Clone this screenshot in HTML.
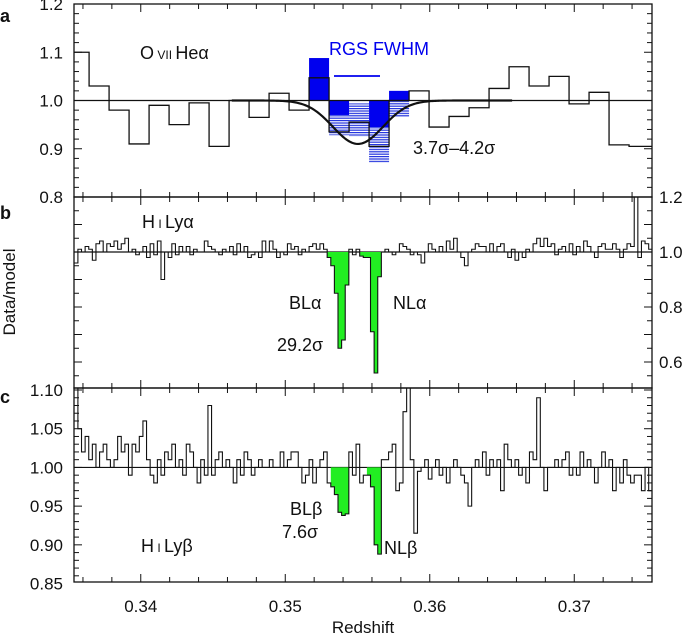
<!DOCTYPE html>
<html><head><meta charset="utf-8"><style>
body{margin:0;background:#fff;}
svg{display:block;font-family:"Liberation Sans",sans-serif;}
</style></head><body>
<svg id="chart" width="685" height="637" viewBox="0 0 685 637">
<defs>
<pattern id="hatch" patternUnits="userSpaceOnUse" width="4" height="2.4"><rect width="4" height="1.2" fill="#2233dd"/></pattern>
<clipPath id="clipA"><rect x="74" y="4" width="578" height="193"/></clipPath>
<clipPath id="clipB"><rect x="74" y="197" width="578" height="191"/></clipPath>
<clipPath id="clipC"><rect x="74" y="388" width="578" height="194"/></clipPath>
</defs>
<g id="g"></g>
</svg>
<script>
// ---- data ----
const xTicks = [0.34, 0.35, 0.36, 0.37];
const xTickLabels = ["0.34", "0.35", "0.36", "0.37"];
// panel a: O VII He-alpha (coarse bins)
const aBinStart = 0.33504;
const aBinWidth = 0.001384;
const aValues = [1.10,1.03,0.98,0.91,0.99,0.95,0.995,0.905,1.0,0.965,1.015,0.98,1.047,0.935,0.955,0.905,1.0,1.02,0.945,0.967,0.985,1.025,1.07,1.03,1.05,0.993,1.017,0.908,0.905,0.905];
const aBlueBins = [12,13,14,15,16];
const aSolidLo = [1.0,0.97,null,0.945,1.0];
const aSolidHi = [1.088,1.0,null,1.0,1.02];
const aHatchLo = [null,0.928,0.925,0.871,0.965];
const aHatchHi = [null,0.97,0.994,0.945,1.0];
const aModelCenter = 0.35503;
const aModelSigma = 0.00173;
const aModelDepth = 0.09;
const aYTicks = [0.8,0.9,1.0,1.1,1.2];
const aYTickLabels = ["0.8","0.9","1.0","1.1","1.2"];
// panel b: H I Ly-alpha
const bBinStart = 0.3354;
const bBinWidth = 0.00025;
const bValues = [0.96,1.01,1.00,1.02,1.01,0.97,1.03,1.04,1.00,1.03,
1.02,1.04,1.01,1.03,1.05,1.00,1.01,0.99,1.00,1.02,
0.98,1.03,0.99,1.04,0.90,1.00,0.98,1.03,0.99,1.02,
1.00,1.02,0.99,1.01,1.00,1.00,1.04,1.02,1.01,1.00,
0.99,1.01,1.00,1.02,0.99,1.03,1.00,1.02,0.98,0.99,
1.00,0.98,1.04,1.00,1.04,1.01,0.98,1.00,0.99,1.03,
1.01,1.02,0.99,1.01,1.00,1.02,1.03,1.01,1.03,1.01,
0.98,0.95,0.85,0.65,0.68,0.88,1.01,0.99,1.01,0.985,
0.98,0.98,0.71,0.56,0.91,1.00,1.01,1.00,0.99,1.00,
1.03,1.02,1.01,0.99,1.00,0.99,0.96,1.00,1.03,1.01,
1.00,1.02,1.00,1.04,1.01,1.05,1.00,0.98,0.95,1.00,
1.01,1.03,1.02,1.02,1.00,1.03,1.00,1.02,1.03,1.00,
0.98,1.01,0.97,1.00,0.98,1.01,1.00,1.03,1.05,1.02,
1.05,1.02,1.03,0.99,1.01,1.02,1.00,1.03,0.99,1.02,
1.00,1.04,1.02,1.00,0.98,1.02,1.03,1.01,1.01,1.03,
1.01,0.98,1.01,1.03,1.02,1.25,0.98,1.04,1.03,1.01];
const bGreen = [[70,75],[79,84]];
const bYTicks = [0.6,0.8,1.0,1.2];
const bYTickLabels = ["0.6","0.8","1.0","1.2"];
// panel c: H I Ly-beta
const cBinStart = 0.3354;
const cBinWidth = 0.00025;
const cValues = [1.12,1.05,1.02,1.04,1.01,1.03,1.00,1.02,1.03,1.01,
1.00,1.01,1.04,1.02,1.03,0.99,1.03,1.02,1.04,1.06,
1.01,0.99,0.98,1.01,0.99,1.02,1.01,1.03,1.00,1.01,
0.99,1.03,1.02,1.00,0.98,1.01,0.99,1.08,0.99,1.01,
1.02,1.00,1.01,1.00,0.98,1.01,0.99,1.02,1.01,0.99,
1.00,1.01,1.00,1.00,1.01,1.00,1.00,1.02,1.00,1.01,
1.02,1.02,1.00,0.98,0.99,1.01,0.98,1.00,1.01,1.02,
0.98,0.975,0.965,0.942,0.938,0.94,1.02,0.99,1.03,0.98,
0.99,0.99,0.975,0.90,0.888,1.01,1.01,1.02,1.03,0.97,
0.98,1.072,1.12,1.01,0.915,0.995,1.00,1.01,0.985,1.00,
1.01,0.99,1.00,0.98,1.00,1.01,1.00,0.99,0.98,0.95,
1.00,1.01,1.00,1.02,0.99,1.01,1.00,1.01,0.97,1.03,
1.01,1.00,1.01,0.99,1.00,0.98,1.02,1.01,1.09,1.00,
0.97,1.00,1.00,1.01,1.00,1.01,1.02,0.99,1.00,0.99,
1.02,1.00,1.01,1.00,0.98,1.00,1.02,1.00,1.01,0.97,
1.00,0.98,1.01,0.99,0.98,0.99,0.99,0.97,1.00,0.97];
const cGreen = [[71,75],[81,84]];
const cYTicks = [0.85,0.90,0.95,1.00,1.05,1.10];
const cYTickLabels = ["0.85","0.90","0.95","1.00","1.05","1.10"];

// ---- axes ----
const X0=74, X1=652, Z0=0.33538, Z1=0.37538;
const xs = z => X0 + (z-Z0)/(Z1-Z0)*(X1-X0);
const mkY = (top,bot,vTop,vBot) => v => top + (vTop-v)/(vTop-vBot)*(bot-top);
const P = {
 a:{top:4,bot:197,y:mkY(4,197,1.2,0.8),clip:"clipA"},
 b:{top:197,bot:388,y:mkY(197,388,1.2,0.5055),clip:"clipB"},
 c:{top:388,bot:582,y:mkY(388,582,1.1026,0.852),clip:"clipC"}
};
const NS="http://www.w3.org/2000/svg";
const G=document.getElementById('g');
function el(tag,attrs,parent){const e=document.createElementNS(NS,tag);for(const k in attrs)e.setAttribute(k,attrs[k]);(parent||G).appendChild(e);return e;}
function txt(x,y,s,size,anchor,name,extra){const t=el('text',Object.assign({x:x,y:y,'font-size':size,'text-anchor':anchor||'start',fill:'#111'},extra||{}));t.textContent=s;


return t;}

function histPath(vals,start,w,y){let d="";for(let i=0;i<vals.length;i++){const xa=xs(start+i*w),xb=xs(start+(i+1)*w),yy=y(vals[i]);d+=(i===0?"M":"L")+xa.toFixed(2)+","+yy.toFixed(2)+"L"+xb.toFixed(2)+","+yy.toFixed(2);}return d;}
function greenPath(vals,start,w,y,r){const y1=y(1.0);let d="M"+xs(start+r[0]*w).toFixed(2)+","+y1;for(let i=r[0];i<=r[1];i++){const xa=xs(start+i*w),xb=xs(start+(i+1)*w),yy=y(vals[i]);d+="L"+xa.toFixed(2)+","+yy.toFixed(2)+"L"+xb.toFixed(2)+","+yy.toFixed(2);}d+="L"+xs(start+(r[1]+1)*w).toFixed(2)+","+y1+"Z";return d;}

// frames & ticks
["a","b","c"].forEach(k=>{
 const p=P[k];
 const f=el('rect',{x:X0,y:p.top,width:X1-X0,height:p.bot-p.top,fill:'none',stroke:'#111','stroke-width':1.3});
 
 
 for(let z=0.336;z<0.3755;z+=0.002){const major=Math.abs(z*100-Math.round(z*100))<1e-6;const L=major?8:5;const x=xs(z);
  const t1=el('line',{x1:x,x2:x,y1:p.top,y2:p.top+L,stroke:'#111','stroke-width':1});
  
  
  const t2=el('line',{x1:x,x2:x,y1:p.bot,y2:p.bot-L,stroke:'#111','stroke-width':1});
  
  
 }
});
function yTicks(p,v0,v1,step,majorEvery,left,right){let n=0;for(let v=v0;v<=v1+1e-9;v+=step,n++){const yy=p.y(v);if(yy<p.top-0.5||yy>p.bot+0.5)continue;const L=(n%majorEvery===0)?8:5;
 if(left){const t=el('line',{x1:X0,x2:X0+L,y1:yy,y2:yy,stroke:'#111','stroke-width':1});}
 if(right){const t=el('line',{x1:X1,x2:X1-L,y1:yy,y2:yy,stroke:'#111','stroke-width':1});}}}
yTicks(P.a,0.8,1.2,0.02,5,true,true);
yTicks(P.b,0.5,1.2,0.05,2,true,true);
yTicks(P.c,0.85,1.10,0.01,5,true,true);

// tick labels
xTicks.forEach((z,i)=>txt(xs(z),612,xTickLabels[i],17,'middle','x-tick-label'));
aYTicks.forEach((v,i)=>{if(v===0.8)txt(63,203,aYTickLabels[i],17,'end','a-y-tick-label');else txt(63,P.a.y(v)+6,aYTickLabels[i],17,'end','a-y-tick-label');});
bYTicks.forEach((v,i)=>{const yy=(v===1.2)?203:P.b.y(v)+6;txt(659,yy,bYTickLabels[i],17,'start','b-y-tick-label');});
cYTicks.forEach((v,i)=>{const yy=P.c.y(v)+6;txt(63,Math.min(yy,591),cYTickLabels[i],17,'end','c-y-tick-label');});

// panel a blue bars
const ga=el('g',{'clip-path':'url(#clipA)'});
aBlueBins.forEach((bi,j)=>{const xa=xs(aBinStart+bi*aBinWidth),xb=xs(aBinStart+(bi+1)*aBinWidth);
 if(aSolidLo[j]!==null){const r=el('rect',{x:xa,y:P.a.y(aSolidHi[j]),width:xb-xa,height:P.a.y(aSolidLo[j])-P.a.y(aSolidHi[j]),fill:'#0000ee'},ga);}
 if(aHatchLo[j]!==null){const r=el('rect',{x:xa,y:P.a.y(aHatchHi[j]),width:xb-xa,height:P.a.y(aHatchLo[j])-P.a.y(aHatchHi[j]),fill:'url(#hatch)'},ga);}
});
// unity lines
["a","b","c"].forEach(k=>{const p=P[k];const l=el('line',{x1:X0,x2:X1,y1:p.y(1),y2:p.y(1),stroke:'#111','stroke-width':1.2});});
const ha=el('path',{d:histPath(aValues,aBinStart,aBinWidth,P.a.y),fill:'none',stroke:'#111','stroke-width':1.3},ga);


// model curve
let md="";for(let z=0.3463;z<=0.3657;z+=0.0001){const v=1-aModelDepth*Math.exp(-Math.pow(z-aModelCenter,2)/(2*aModelSigma*aModelSigma));md+=(md?"L":"M")+xs(z).toFixed(2)+","+P.a.y(v).toFixed(2);}
const mc=el('path',{d:md,fill:'none',stroke:'#111','stroke-width':2.2},ga);


const fw=el('line',{x1:334,x2:380,y1:76,y2:76,stroke:'#0000ee','stroke-width':1.8});



// panel b/c
[["b",bValues,bBinStart,bBinWidth,bGreen],["c",cValues,cBinStart,cBinWidth,cGreen]].forEach(([k,vals,st,w,gr])=>{
 const p=P[k];const g=el('g',{'clip-path':'url(#'+p.clip+')'});
 gr.forEach(r=>{const gp=el('path',{d:greenPath(vals,st,w,p.y,r),fill:'#22ee22',stroke:'none'},g);});
 const h=el('path',{d:histPath(vals,st,w,p.y),fill:'none',stroke:'#111','stroke-width':1.1},g);
 
 
});

// annotations
txt(0,22,"a",18,'start','panel-a-label',{'font-weight':'bold'});
txt(0,219,"b",18,'start','panel-b-label',{'font-weight':'bold'});
txt(0,403,"c",18,'start','panel-c-label',{'font-weight':'bold'});
const oa=txt(140,59,"O",18,'start','ovii-label');
const ts=el('tspan',{'font-size':12},oa);ts.textContent=" VII ";
const ts2=el('tspan',{},oa);ts2.textContent="Heα";
txt(329,55,"RGS FWHM",18,'start','rgs-fwhm-label',{fill:'#0000ee'});
txt(413,154,"3.7σ–4.2σ",18,'start','significance-a-label');
const la=txt(142,228,"H",18,'start','lya-label');const la2=el('tspan',{'font-size':12},la);la2.textContent=" I ";const la3=el('tspan',{},la);la3.textContent="Lyα";
txt(289,309,"BLα",18,'start','bla-label');
txt(277,351,"29.2σ",18,'start','bla-significance-label');
txt(393,309,"NLα",18,'start','nla-label');
txt(290,515,"BLβ",18,'start','blb-label');
txt(282,538,"7.6σ",18,'start','blb-significance-label');
const lb=txt(141,552,"H",18,'start','lyb-label');const lb2=el('tspan',{'font-size':12},lb);lb2.textContent=" I ";const lb3=el('tspan',{},lb);lb3.textContent="Lyβ";
txt(384,554,"NLβ",18,'start','nlb-label');
txt(363,633,"Redshift",17,'middle','x-axis-title');
txt(15,292,"Data/model",17,'middle','y-axis-title',{transform:'rotate(-90 15 292)'});
</script>
</body></html>
